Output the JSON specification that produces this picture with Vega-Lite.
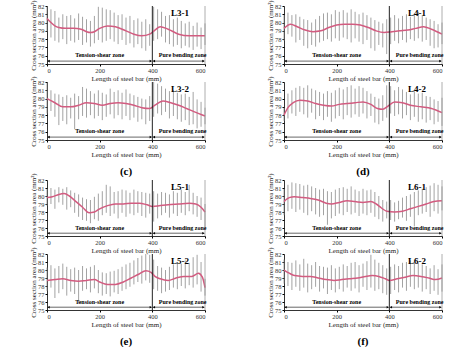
{
"$schema":"https://vega.github.io/schema/vega-lite/v6.json",
"padding":{"left":29,"top":-1,"right":0,"bottom":0},
"datasets":{
"top":[
{"g":"(c)","r":1,"p":"L3-1","x":0,"lo":78.9,"hi":81.9},{"g":"(c)","r":1,"p":"L3-1","x":15,"lo":78.2,"hi":81.6},{"g":"(c)","r":1,"p":"L3-1","x":30,"lo":77.8,"hi":81.4},{"g":"(c)","r":1,"p":"L3-1","x":45,"lo":77.6,"hi":80.6},{"g":"(c)","r":1,"p":"L3-1","x":60,"lo":78.0,"hi":81.0},{"g":"(c)","r":1,"p":"L3-1","x":75,"lo":77.4,"hi":80.8},{"g":"(c)","r":1,"p":"L3-1","x":90,"lo":77.8,"hi":80.9},{"g":"(c)","r":1,"p":"L3-1","x":105,"lo":77.6,"hi":80.5},{"g":"(c)","r":1,"p":"L3-1","x":120,"lo":77.9,"hi":81.1},{"g":"(c)","r":1,"p":"L3-1","x":135,"lo":77.3,"hi":80.7},{"g":"(c)","r":1,"p":"L3-1","x":150,"lo":77.6,"hi":80.4},{"g":"(c)","r":1,"p":"L3-1","x":165,"lo":77.1,"hi":80.2},{"g":"(c)","r":1,"p":"L3-1","x":180,"lo":77.5,"hi":80.8},{"g":"(c)","r":1,"p":"L3-1","x":195,"lo":77.9,"hi":81.9},{"g":"(c)","r":1,"p":"L3-1","x":210,"lo":77.6,"hi":81.8},{"g":"(c)","r":1,"p":"L3-1","x":225,"lo":77.8,"hi":81.6},{"g":"(c)","r":1,"p":"L3-1","x":240,"lo":78.0,"hi":81.5},{"g":"(c)","r":1,"p":"L3-1","x":255,"lo":77.7,"hi":81.2},{"g":"(c)","r":1,"p":"L3-1","x":270,"lo":77.4,"hi":80.9},{"g":"(c)","r":1,"p":"L3-1","x":285,"lo":77.9,"hi":81.0},{"g":"(c)","r":1,"p":"L3-1","x":300,"lo":77.3,"hi":80.6},{"g":"(c)","r":1,"p":"L3-1","x":315,"lo":77.5,"hi":80.8},{"g":"(c)","r":1,"p":"L3-1","x":330,"lo":77.0,"hi":80.3},{"g":"(c)","r":1,"p":"L3-1","x":345,"lo":77.4,"hi":80.5},{"g":"(c)","r":1,"p":"L3-1","x":360,"lo":76.9,"hi":80.1},{"g":"(c)","r":1,"p":"L3-1","x":375,"lo":76.6,"hi":80.4},{"g":"(c)","r":1,"p":"L3-1","x":390,"lo":77.2,"hi":79.8},{"g":"(c)","r":1,"p":"L3-1","x":405,"lo":77.8,"hi":81.9},{"g":"(c)","r":1,"p":"L3-1","x":420,"lo":78.0,"hi":81.6},{"g":"(c)","r":1,"p":"L3-1","x":435,"lo":78.3,"hi":81.3},{"g":"(c)","r":1,"p":"L3-1","x":450,"lo":77.6,"hi":80.8},{"g":"(c)","r":1,"p":"L3-1","x":465,"lo":77.4,"hi":80.9},{"g":"(c)","r":1,"p":"L3-1","x":480,"lo":77.1,"hi":80.4},{"g":"(c)","r":1,"p":"L3-1","x":495,"lo":77.3,"hi":80.6},{"g":"(c)","r":1,"p":"L3-1","x":510,"lo":76.9,"hi":80.2},{"g":"(c)","r":1,"p":"L3-1","x":525,"lo":77.2,"hi":79.9},{"g":"(c)","r":1,"p":"L3-1","x":540,"lo":77.0,"hi":80.1},{"g":"(c)","r":1,"p":"L3-1","x":555,"lo":76.7,"hi":79.6},{"g":"(c)","r":1,"p":"L3-1","x":570,"lo":77.1,"hi":80.0},{"g":"(c)","r":1,"p":"L3-1","x":585,"lo":76.8,"hi":79.4},{"g":"(c)","r":1,"p":"L3-1","x":600,"lo":77.3,"hi":79.9},
{"g":"(c)","r":1,"p":"L3-1","x":0,"y":80.5},{"g":"(c)","r":1,"p":"L3-1","x":15,"y":80.0},{"g":"(c)","r":1,"p":"L3-1","x":30,"y":79.6},{"g":"(c)","r":1,"p":"L3-1","x":45,"y":79.4},{"g":"(c)","r":1,"p":"L3-1","x":70,"y":79.3},{"g":"(c)","r":1,"p":"L3-1","x":100,"y":79.3},{"g":"(c)","r":1,"p":"L3-1","x":130,"y":79.2},{"g":"(c)","r":1,"p":"L3-1","x":150,"y":78.9},{"g":"(c)","r":1,"p":"L3-1","x":165,"y":78.8},{"g":"(c)","r":1,"p":"L3-1","x":180,"y":78.9},{"g":"(c)","r":1,"p":"L3-1","x":200,"y":79.3},{"g":"(c)","r":1,"p":"L3-1","x":230,"y":79.6},{"g":"(c)","r":1,"p":"L3-1","x":260,"y":79.5},{"g":"(c)","r":1,"p":"L3-1","x":300,"y":79.0},{"g":"(c)","r":1,"p":"L3-1","x":330,"y":78.6},{"g":"(c)","r":1,"p":"L3-1","x":360,"y":78.4},{"g":"(c)","r":1,"p":"L3-1","x":390,"y":78.6},{"g":"(c)","r":1,"p":"L3-1","x":410,"y":79.1},{"g":"(c)","r":1,"p":"L3-1","x":430,"y":79.5},{"g":"(c)","r":1,"p":"L3-1","x":460,"y":79.2},{"g":"(c)","r":1,"p":"L3-1","x":500,"y":78.6},{"g":"(c)","r":1,"p":"L3-1","x":540,"y":78.4},{"g":"(c)","r":1,"p":"L3-1","x":600,"y":78.4},
{"g":"(c)","r":2,"p":"L3-2","x":0,"lo":78.2,"hi":81.9},{"g":"(c)","r":2,"p":"L3-2","x":15,"lo":78.5,"hi":81.0},{"g":"(c)","r":2,"p":"L3-2","x":30,"lo":77.8,"hi":80.6},{"g":"(c)","r":2,"p":"L3-2","x":45,"lo":76.8,"hi":80.5},{"g":"(c)","r":2,"p":"L3-2","x":60,"lo":77.3,"hi":80.2},{"g":"(c)","r":2,"p":"L3-2","x":75,"lo":76.9,"hi":80.4},{"g":"(c)","r":2,"p":"L3-2","x":90,"lo":77.6,"hi":80.1},{"g":"(c)","r":2,"p":"L3-2","x":105,"lo":76.3,"hi":80.6},{"g":"(c)","r":2,"p":"L3-2","x":120,"lo":77.5,"hi":80.3},{"g":"(c)","r":2,"p":"L3-2","x":135,"lo":77.9,"hi":81.4},{"g":"(c)","r":2,"p":"L3-2","x":150,"lo":77.7,"hi":81.2},{"g":"(c)","r":2,"p":"L3-2","x":165,"lo":78.0,"hi":80.9},{"g":"(c)","r":2,"p":"L3-2","x":180,"lo":77.6,"hi":80.6},{"g":"(c)","r":2,"p":"L3-2","x":195,"lo":77.9,"hi":81.0},{"g":"(c)","r":2,"p":"L3-2","x":210,"lo":77.4,"hi":80.7},{"g":"(c)","r":2,"p":"L3-2","x":225,"lo":77.8,"hi":80.5},{"g":"(c)","r":2,"p":"L3-2","x":240,"lo":78.1,"hi":81.2},{"g":"(c)","r":2,"p":"L3-2","x":255,"lo":77.6,"hi":80.8},{"g":"(c)","r":2,"p":"L3-2","x":270,"lo":78.0,"hi":81.0},{"g":"(c)","r":2,"p":"L3-2","x":285,"lo":77.5,"hi":80.7},{"g":"(c)","r":2,"p":"L3-2","x":300,"lo":77.9,"hi":81.1},{"g":"(c)","r":2,"p":"L3-2","x":315,"lo":77.4,"hi":80.6},{"g":"(c)","r":2,"p":"L3-2","x":330,"lo":77.7,"hi":80.4},{"g":"(c)","r":2,"p":"L3-2","x":345,"lo":77.2,"hi":80.2},{"g":"(c)","r":2,"p":"L3-2","x":360,"lo":77.5,"hi":80.0},{"g":"(c)","r":2,"p":"L3-2","x":375,"lo":76.9,"hi":79.9},{"g":"(c)","r":2,"p":"L3-2","x":390,"lo":77.3,"hi":80.3},{"g":"(c)","r":2,"p":"L3-2","x":405,"lo":77.8,"hi":82.0},{"g":"(c)","r":2,"p":"L3-2","x":420,"lo":78.2,"hi":81.8},{"g":"(c)","r":2,"p":"L3-2","x":435,"lo":78.0,"hi":81.5},{"g":"(c)","r":2,"p":"L3-2","x":450,"lo":78.4,"hi":81.2},{"g":"(c)","r":2,"p":"L3-2","x":465,"lo":77.6,"hi":80.9},{"g":"(c)","r":2,"p":"L3-2","x":480,"lo":77.9,"hi":81.0},{"g":"(c)","r":2,"p":"L3-2","x":495,"lo":77.5,"hi":80.7},{"g":"(c)","r":2,"p":"L3-2","x":510,"lo":77.2,"hi":80.5},{"g":"(c)","r":2,"p":"L3-2","x":525,"lo":77.4,"hi":80.6},{"g":"(c)","r":2,"p":"L3-2","x":540,"lo":76.8,"hi":80.2},{"g":"(c)","r":2,"p":"L3-2","x":555,"lo":76.9,"hi":80.8},{"g":"(c)","r":2,"p":"L3-2","x":570,"lo":76.4,"hi":79.9},{"g":"(c)","r":2,"p":"L3-2","x":585,"lo":76.6,"hi":79.6},{"g":"(c)","r":2,"p":"L3-2","x":600,"lo":76.9,"hi":78.9},
{"g":"(c)","r":2,"p":"L3-2","x":0,"y":80.0},{"g":"(c)","r":2,"p":"L3-2","x":30,"y":79.5},{"g":"(c)","r":2,"p":"L3-2","x":60,"y":79.0},{"g":"(c)","r":2,"p":"L3-2","x":90,"y":79.0},{"g":"(c)","r":2,"p":"L3-2","x":120,"y":79.2},{"g":"(c)","r":2,"p":"L3-2","x":150,"y":79.5},{"g":"(c)","r":2,"p":"L3-2","x":180,"y":79.4},{"g":"(c)","r":2,"p":"L3-2","x":210,"y":79.2},{"g":"(c)","r":2,"p":"L3-2","x":240,"y":79.4},{"g":"(c)","r":2,"p":"L3-2","x":270,"y":79.5},{"g":"(c)","r":2,"p":"L3-2","x":300,"y":79.4},{"g":"(c)","r":2,"p":"L3-2","x":330,"y":79.2},{"g":"(c)","r":2,"p":"L3-2","x":360,"y":78.9},{"g":"(c)","r":2,"p":"L3-2","x":390,"y":78.8},{"g":"(c)","r":2,"p":"L3-2","x":410,"y":79.2},{"g":"(c)","r":2,"p":"L3-2","x":440,"y":79.7},{"g":"(c)","r":2,"p":"L3-2","x":470,"y":79.5},{"g":"(c)","r":2,"p":"L3-2","x":500,"y":79.2},{"g":"(c)","r":2,"p":"L3-2","x":530,"y":78.8},{"g":"(c)","r":2,"p":"L3-2","x":560,"y":78.4},{"g":"(c)","r":2,"p":"L3-2","x":600,"y":77.9},
{"g":"(d)","r":1,"p":"L4-1","x":0,"lo":77.8,"hi":80.9},{"g":"(d)","r":1,"p":"L4-1","x":15,"lo":78.6,"hi":81.2},{"g":"(d)","r":1,"p":"L4-1","x":30,"lo":78.3,"hi":80.9},{"g":"(d)","r":1,"p":"L4-1","x":45,"lo":77.6,"hi":81.0},{"g":"(d)","r":1,"p":"L4-1","x":60,"lo":77.9,"hi":80.7},{"g":"(d)","r":1,"p":"L4-1","x":75,"lo":77.2,"hi":80.4},{"g":"(d)","r":1,"p":"L4-1","x":90,"lo":76.9,"hi":80.3},{"g":"(d)","r":1,"p":"L4-1","x":105,"lo":77.3,"hi":80.0},{"g":"(d)","r":1,"p":"L4-1","x":120,"lo":77.1,"hi":80.4},{"g":"(d)","r":1,"p":"L4-1","x":135,"lo":77.6,"hi":80.8},{"g":"(d)","r":1,"p":"L4-1","x":150,"lo":77.8,"hi":81.1},{"g":"(d)","r":1,"p":"L4-1","x":165,"lo":78.0,"hi":81.2},{"g":"(d)","r":1,"p":"L4-1","x":180,"lo":77.7,"hi":81.0},{"g":"(d)","r":1,"p":"L4-1","x":195,"lo":78.1,"hi":81.5},{"g":"(d)","r":1,"p":"L4-1","x":210,"lo":77.8,"hi":81.3},{"g":"(d)","r":1,"p":"L4-1","x":225,"lo":78.2,"hi":81.5},{"g":"(d)","r":1,"p":"L4-1","x":240,"lo":78.0,"hi":81.2},{"g":"(d)","r":1,"p":"L4-1","x":255,"lo":77.6,"hi":81.6},{"g":"(d)","r":1,"p":"L4-1","x":270,"lo":78.1,"hi":81.3},{"g":"(d)","r":1,"p":"L4-1","x":285,"lo":77.7,"hi":81.0},{"g":"(d)","r":1,"p":"L4-1","x":300,"lo":77.4,"hi":81.2},{"g":"(d)","r":1,"p":"L4-1","x":315,"lo":77.9,"hi":80.9},{"g":"(d)","r":1,"p":"L4-1","x":330,"lo":76.9,"hi":80.6},{"g":"(d)","r":1,"p":"L4-1","x":345,"lo":76.6,"hi":80.3},{"g":"(d)","r":1,"p":"L4-1","x":360,"lo":77.3,"hi":80.1},{"g":"(d)","r":1,"p":"L4-1","x":375,"lo":77.0,"hi":79.9},{"g":"(d)","r":1,"p":"L4-1","x":390,"lo":76.2,"hi":80.4},{"g":"(d)","r":1,"p":"L4-1","x":405,"lo":77.4,"hi":80.6},{"g":"(d)","r":1,"p":"L4-1","x":420,"lo":77.8,"hi":80.9},{"g":"(d)","r":1,"p":"L4-1","x":435,"lo":77.5,"hi":80.5},{"g":"(d)","r":1,"p":"L4-1","x":450,"lo":77.9,"hi":80.8},{"g":"(d)","r":1,"p":"L4-1","x":465,"lo":77.6,"hi":81.0},{"g":"(d)","r":1,"p":"L4-1","x":480,"lo":78.0,"hi":80.7},{"g":"(d)","r":1,"p":"L4-1","x":495,"lo":77.8,"hi":81.1},{"g":"(d)","r":1,"p":"L4-1","x":510,"lo":78.1,"hi":81.3},{"g":"(d)","r":1,"p":"L4-1","x":525,"lo":77.7,"hi":80.9},{"g":"(d)","r":1,"p":"L4-1","x":540,"lo":77.9,"hi":80.6},{"g":"(d)","r":1,"p":"L4-1","x":555,"lo":77.2,"hi":80.4},{"g":"(d)","r":1,"p":"L4-1","x":570,"lo":76.9,"hi":80.2},{"g":"(d)","r":1,"p":"L4-1","x":585,"lo":77.0,"hi":79.8},{"g":"(d)","r":1,"p":"L4-1","x":600,"lo":77.4,"hi":80.0},
{"g":"(d)","r":1,"p":"L4-1","x":0,"y":79.3},{"g":"(d)","r":1,"p":"L4-1","x":25,"y":79.8},{"g":"(d)","r":1,"p":"L4-1","x":50,"y":79.5},{"g":"(d)","r":1,"p":"L4-1","x":80,"y":79.1},{"g":"(d)","r":1,"p":"L4-1","x":110,"y":78.9},{"g":"(d)","r":1,"p":"L4-1","x":140,"y":79.0},{"g":"(d)","r":1,"p":"L4-1","x":170,"y":79.4},{"g":"(d)","r":1,"p":"L4-1","x":200,"y":79.7},{"g":"(d)","r":1,"p":"L4-1","x":230,"y":79.8},{"g":"(d)","r":1,"p":"L4-1","x":260,"y":79.8},{"g":"(d)","r":1,"p":"L4-1","x":290,"y":79.7},{"g":"(d)","r":1,"p":"L4-1","x":320,"y":79.4},{"g":"(d)","r":1,"p":"L4-1","x":350,"y":79.0},{"g":"(d)","r":1,"p":"L4-1","x":380,"y":78.8},{"g":"(d)","r":1,"p":"L4-1","x":410,"y":78.9},{"g":"(d)","r":1,"p":"L4-1","x":440,"y":79.0},{"g":"(d)","r":1,"p":"L4-1","x":470,"y":79.1},{"g":"(d)","r":1,"p":"L4-1","x":500,"y":79.3},{"g":"(d)","r":1,"p":"L4-1","x":530,"y":79.5},{"g":"(d)","r":1,"p":"L4-1","x":560,"y":79.2},{"g":"(d)","r":1,"p":"L4-1","x":600,"y":78.6},
{"g":"(d)","r":2,"p":"L4-2","x":0,"lo":77.3,"hi":78.9},{"g":"(d)","r":2,"p":"L4-2","x":15,"lo":77.6,"hi":80.6},{"g":"(d)","r":2,"p":"L4-2","x":30,"lo":78.2,"hi":81.0},{"g":"(d)","r":2,"p":"L4-2","x":45,"lo":77.9,"hi":81.3},{"g":"(d)","r":2,"p":"L4-2","x":60,"lo":78.4,"hi":81.5},{"g":"(d)","r":2,"p":"L4-2","x":75,"lo":78.1,"hi":81.3},{"g":"(d)","r":2,"p":"L4-2","x":90,"lo":77.7,"hi":81.6},{"g":"(d)","r":2,"p":"L4-2","x":105,"lo":78.3,"hi":81.2},{"g":"(d)","r":2,"p":"L4-2","x":120,"lo":77.5,"hi":81.0},{"g":"(d)","r":2,"p":"L4-2","x":135,"lo":77.9,"hi":80.8},{"g":"(d)","r":2,"p":"L4-2","x":150,"lo":77.4,"hi":80.6},{"g":"(d)","r":2,"p":"L4-2","x":165,"lo":77.8,"hi":80.9},{"g":"(d)","r":2,"p":"L4-2","x":180,"lo":77.2,"hi":80.7},{"g":"(d)","r":2,"p":"L4-2","x":195,"lo":77.6,"hi":81.0},{"g":"(d)","r":2,"p":"L4-2","x":210,"lo":77.9,"hi":81.3},{"g":"(d)","r":2,"p":"L4-2","x":225,"lo":77.5,"hi":81.1},{"g":"(d)","r":2,"p":"L4-2","x":240,"lo":78.0,"hi":81.4},{"g":"(d)","r":2,"p":"L4-2","x":255,"lo":77.7,"hi":81.6},{"g":"(d)","r":2,"p":"L4-2","x":270,"lo":78.1,"hi":81.2},{"g":"(d)","r":2,"p":"L4-2","x":285,"lo":77.8,"hi":81.5},{"g":"(d)","r":2,"p":"L4-2","x":300,"lo":78.2,"hi":81.3},{"g":"(d)","r":2,"p":"L4-2","x":315,"lo":77.6,"hi":80.9},{"g":"(d)","r":2,"p":"L4-2","x":330,"lo":77.9,"hi":80.6},{"g":"(d)","r":2,"p":"L4-2","x":345,"lo":77.1,"hi":80.2},{"g":"(d)","r":2,"p":"L4-2","x":360,"lo":76.9,"hi":80.0},{"g":"(d)","r":2,"p":"L4-2","x":375,"lo":77.3,"hi":80.4},{"g":"(d)","r":2,"p":"L4-2","x":390,"lo":77.7,"hi":81.6},{"g":"(d)","r":2,"p":"L4-2","x":405,"lo":78.2,"hi":81.5},{"g":"(d)","r":2,"p":"L4-2","x":420,"lo":77.9,"hi":81.0},{"g":"(d)","r":2,"p":"L4-2","x":435,"lo":78.1,"hi":81.4},{"g":"(d)","r":2,"p":"L4-2","x":450,"lo":77.6,"hi":81.1},{"g":"(d)","r":2,"p":"L4-2","x":465,"lo":78.0,"hi":80.8},{"g":"(d)","r":2,"p":"L4-2","x":480,"lo":77.4,"hi":80.5},{"g":"(d)","r":2,"p":"L4-2","x":495,"lo":77.8,"hi":80.9},{"g":"(d)","r":2,"p":"L4-2","x":510,"lo":77.2,"hi":80.6},{"g":"(d)","r":2,"p":"L4-2","x":525,"lo":77.5,"hi":80.7},{"g":"(d)","r":2,"p":"L4-2","x":540,"lo":77.1,"hi":80.3},{"g":"(d)","r":2,"p":"L4-2","x":555,"lo":77.4,"hi":80.2},{"g":"(d)","r":2,"p":"L4-2","x":570,"lo":76.9,"hi":79.9},{"g":"(d)","r":2,"p":"L4-2","x":585,"lo":77.2,"hi":79.7},{"g":"(d)","r":2,"p":"L4-2","x":600,"lo":76.7,"hi":80.1},
{"g":"(d)","r":2,"p":"L4-2","x":0,"y":78.0},{"g":"(d)","r":2,"p":"L4-2","x":15,"y":78.9},{"g":"(d)","r":2,"p":"L4-2","x":35,"y":79.5},{"g":"(d)","r":2,"p":"L4-2","x":60,"y":79.8},{"g":"(d)","r":2,"p":"L4-2","x":90,"y":79.7},{"g":"(d)","r":2,"p":"L4-2","x":120,"y":79.4},{"g":"(d)","r":2,"p":"L4-2","x":150,"y":79.2},{"g":"(d)","r":2,"p":"L4-2","x":180,"y":79.1},{"g":"(d)","r":2,"p":"L4-2","x":210,"y":79.3},{"g":"(d)","r":2,"p":"L4-2","x":240,"y":79.4},{"g":"(d)","r":2,"p":"L4-2","x":270,"y":79.5},{"g":"(d)","r":2,"p":"L4-2","x":300,"y":79.6},{"g":"(d)","r":2,"p":"L4-2","x":330,"y":79.3},{"g":"(d)","r":2,"p":"L4-2","x":355,"y":78.8},{"g":"(d)","r":2,"p":"L4-2","x":375,"y":78.7},{"g":"(d)","r":2,"p":"L4-2","x":395,"y":79.1},{"g":"(d)","r":2,"p":"L4-2","x":420,"y":79.6},{"g":"(d)","r":2,"p":"L4-2","x":450,"y":79.5},{"g":"(d)","r":2,"p":"L4-2","x":480,"y":79.2},{"g":"(d)","r":2,"p":"L4-2","x":520,"y":79.0},{"g":"(d)","r":2,"p":"L4-2","x":560,"y":78.8},{"g":"(d)","r":2,"p":"L4-2","x":600,"y":78.3}
],
"bot":[
{"g":"(e)","r":1,"p":"L5-1","x":0,"lo":78.8,"hi":80.9},{"g":"(e)","r":1,"p":"L5-1","x":15,"lo":79.0,"hi":81.0},{"g":"(e)","r":1,"p":"L5-1","x":30,"lo":78.4,"hi":80.8},{"g":"(e)","r":1,"p":"L5-1","x":45,"lo":79.2,"hi":81.1},{"g":"(e)","r":1,"p":"L5-1","x":60,"lo":78.9,"hi":80.9},{"g":"(e)","r":1,"p":"L5-1","x":75,"lo":78.3,"hi":81.1},{"g":"(e)","r":1,"p":"L5-1","x":90,"lo":78.6,"hi":80.7},{"g":"(e)","r":1,"p":"L5-1","x":105,"lo":77.9,"hi":80.4},{"g":"(e)","r":1,"p":"L5-1","x":120,"lo":77.4,"hi":80.2},{"g":"(e)","r":1,"p":"L5-1","x":135,"lo":77.0,"hi":79.8},{"g":"(e)","r":1,"p":"L5-1","x":150,"lo":76.9,"hi":79.6},{"g":"(e)","r":1,"p":"L5-1","x":165,"lo":76.6,"hi":79.5},{"g":"(e)","r":1,"p":"L5-1","x":180,"lo":77.1,"hi":79.9},{"g":"(e)","r":1,"p":"L5-1","x":195,"lo":76.9,"hi":80.3},{"g":"(e)","r":1,"p":"L5-1","x":210,"lo":77.6,"hi":80.6},{"g":"(e)","r":1,"p":"L5-1","x":225,"lo":77.9,"hi":81.4},{"g":"(e)","r":1,"p":"L5-1","x":240,"lo":77.5,"hi":81.2},{"g":"(e)","r":1,"p":"L5-1","x":255,"lo":77.8,"hi":80.5},{"g":"(e)","r":1,"p":"L5-1","x":270,"lo":77.2,"hi":80.6},{"g":"(e)","r":1,"p":"L5-1","x":285,"lo":77.9,"hi":80.8},{"g":"(e)","r":1,"p":"L5-1","x":300,"lo":77.4,"hi":80.7},{"g":"(e)","r":1,"p":"L5-1","x":315,"lo":77.8,"hi":80.4},{"g":"(e)","r":1,"p":"L5-1","x":330,"lo":77.6,"hi":80.8},{"g":"(e)","r":1,"p":"L5-1","x":345,"lo":77.9,"hi":80.6},{"g":"(e)","r":1,"p":"L5-1","x":360,"lo":77.5,"hi":80.5},{"g":"(e)","r":1,"p":"L5-1","x":375,"lo":77.3,"hi":80.4},{"g":"(e)","r":1,"p":"L5-1","x":390,"lo":77.8,"hi":80.3},{"g":"(e)","r":1,"p":"L5-1","x":405,"lo":76.8,"hi":80.6},{"g":"(e)","r":1,"p":"L5-1","x":420,"lo":77.2,"hi":80.3},{"g":"(e)","r":1,"p":"L5-1","x":435,"lo":77.6,"hi":80.5},{"g":"(e)","r":1,"p":"L5-1","x":450,"lo":77.9,"hi":80.4},{"g":"(e)","r":1,"p":"L5-1","x":465,"lo":77.3,"hi":80.2},{"g":"(e)","r":1,"p":"L5-1","x":480,"lo":77.8,"hi":80.6},{"g":"(e)","r":1,"p":"L5-1","x":495,"lo":77.5,"hi":80.4},{"g":"(e)","r":1,"p":"L5-1","x":510,"lo":77.9,"hi":80.8},{"g":"(e)","r":1,"p":"L5-1","x":525,"lo":77.6,"hi":80.5},{"g":"(e)","r":1,"p":"L5-1","x":540,"lo":78.1,"hi":81.4},{"g":"(e)","r":1,"p":"L5-1","x":555,"lo":77.7,"hi":80.4},{"g":"(e)","r":1,"p":"L5-1","x":570,"lo":77.4,"hi":80.0},{"g":"(e)","r":1,"p":"L5-1","x":585,"lo":77.0,"hi":79.8},{"g":"(e)","r":1,"p":"L5-1","x":600,"lo":76.1,"hi":79.0},
{"g":"(e)","r":1,"p":"L5-1","x":0,"y":79.8},{"g":"(e)","r":1,"p":"L5-1","x":20,"y":79.9},{"g":"(e)","r":1,"p":"L5-1","x":45,"y":80.2},{"g":"(e)","r":1,"p":"L5-1","x":65,"y":80.3},{"g":"(e)","r":1,"p":"L5-1","x":85,"y":80.0},{"g":"(e)","r":1,"p":"L5-1","x":110,"y":79.3},{"g":"(e)","r":1,"p":"L5-1","x":135,"y":78.6},{"g":"(e)","r":1,"p":"L5-1","x":160,"y":77.9},{"g":"(e)","r":1,"p":"L5-1","x":180,"y":78.0},{"g":"(e)","r":1,"p":"L5-1","x":200,"y":78.4},{"g":"(e)","r":1,"p":"L5-1","x":230,"y":78.8},{"g":"(e)","r":1,"p":"L5-1","x":260,"y":79.0},{"g":"(e)","r":1,"p":"L5-1","x":290,"y":79.0},{"g":"(e)","r":1,"p":"L5-1","x":320,"y":79.1},{"g":"(e)","r":1,"p":"L5-1","x":350,"y":79.1},{"g":"(e)","r":1,"p":"L5-1","x":380,"y":78.9},{"g":"(e)","r":1,"p":"L5-1","x":400,"y":78.7},{"g":"(e)","r":1,"p":"L5-1","x":430,"y":78.8},{"g":"(e)","r":1,"p":"L5-1","x":460,"y":78.9},{"g":"(e)","r":1,"p":"L5-1","x":500,"y":79.0},{"g":"(e)","r":1,"p":"L5-1","x":540,"y":79.1},{"g":"(e)","r":1,"p":"L5-1","x":565,"y":79.0},{"g":"(e)","r":1,"p":"L5-1","x":585,"y":78.6},{"g":"(e)","r":1,"p":"L5-1","x":600,"y":78.0},
{"g":"(e)","r":2,"p":"L5-2","x":0,"lo":77.4,"hi":80.3},{"g":"(e)","r":2,"p":"L5-2","x":15,"lo":77.8,"hi":80.6},{"g":"(e)","r":2,"p":"L5-2","x":30,"lo":76.5,"hi":80.2},{"g":"(e)","r":2,"p":"L5-2","x":45,"lo":77.1,"hi":80.5},{"g":"(e)","r":2,"p":"L5-2","x":60,"lo":77.6,"hi":80.8},{"g":"(e)","r":2,"p":"L5-2","x":75,"lo":76.8,"hi":80.4},{"g":"(e)","r":2,"p":"L5-2","x":90,"lo":77.3,"hi":80.1},{"g":"(e)","r":2,"p":"L5-2","x":105,"lo":77.0,"hi":80.3},{"g":"(e)","r":2,"p":"L5-2","x":120,"lo":75.8,"hi":80.0},{"g":"(e)","r":2,"p":"L5-2","x":135,"lo":77.4,"hi":80.5},{"g":"(e)","r":2,"p":"L5-2","x":150,"lo":77.6,"hi":80.2},{"g":"(e)","r":2,"p":"L5-2","x":165,"lo":77.2,"hi":80.4},{"g":"(e)","r":2,"p":"L5-2","x":180,"lo":77.7,"hi":80.6},{"g":"(e)","r":2,"p":"L5-2","x":195,"lo":77.1,"hi":80.0},{"g":"(e)","r":2,"p":"L5-2","x":210,"lo":76.8,"hi":79.7},{"g":"(e)","r":2,"p":"L5-2","x":225,"lo":77.0,"hi":79.6},{"g":"(e)","r":2,"p":"L5-2","x":240,"lo":76.7,"hi":79.8},{"g":"(e)","r":2,"p":"L5-2","x":255,"lo":77.2,"hi":79.9},{"g":"(e)","r":2,"p":"L5-2","x":270,"lo":77.0,"hi":80.1},{"g":"(e)","r":2,"p":"L5-2","x":285,"lo":77.4,"hi":80.4},{"g":"(e)","r":2,"p":"L5-2","x":300,"lo":77.6,"hi":80.7},{"g":"(e)","r":2,"p":"L5-2","x":315,"lo":77.9,"hi":80.9},{"g":"(e)","r":2,"p":"L5-2","x":330,"lo":78.2,"hi":81.2},{"g":"(e)","r":2,"p":"L5-2","x":345,"lo":78.5,"hi":81.5},{"g":"(e)","r":2,"p":"L5-2","x":360,"lo":78.3,"hi":81.8},{"g":"(e)","r":2,"p":"L5-2","x":375,"lo":78.7,"hi":82.0},{"g":"(e)","r":2,"p":"L5-2","x":390,"lo":78.4,"hi":81.9},{"g":"(e)","r":2,"p":"L5-2","x":405,"lo":77.6,"hi":81.3},{"g":"(e)","r":2,"p":"L5-2","x":420,"lo":77.4,"hi":80.5},{"g":"(e)","r":2,"p":"L5-2","x":435,"lo":77.1,"hi":80.3},{"g":"(e)","r":2,"p":"L5-2","x":450,"lo":77.3,"hi":80.0},{"g":"(e)","r":2,"p":"L5-2","x":465,"lo":77.5,"hi":80.4},{"g":"(e)","r":2,"p":"L5-2","x":480,"lo":77.8,"hi":80.7},{"g":"(e)","r":2,"p":"L5-2","x":495,"lo":77.6,"hi":81.0},{"g":"(e)","r":2,"p":"L5-2","x":510,"lo":78.0,"hi":80.8},{"g":"(e)","r":2,"p":"L5-2","x":525,"lo":77.7,"hi":81.2},{"g":"(e)","r":2,"p":"L5-2","x":540,"lo":78.1,"hi":80.9},{"g":"(e)","r":2,"p":"L5-2","x":555,"lo":77.8,"hi":81.6},{"g":"(e)","r":2,"p":"L5-2","x":570,"lo":78.2,"hi":81.9},{"g":"(e)","r":2,"p":"L5-2","x":585,"lo":77.3,"hi":81.0},{"g":"(e)","r":2,"p":"L5-2","x":600,"lo":76.8,"hi":78.9},
{"g":"(e)","r":2,"p":"L5-2","x":0,"y":78.7},{"g":"(e)","r":2,"p":"L5-2","x":30,"y":78.8},{"g":"(e)","r":2,"p":"L5-2","x":60,"y":78.9},{"g":"(e)","r":2,"p":"L5-2","x":90,"y":78.7},{"g":"(e)","r":2,"p":"L5-2","x":120,"y":78.6},{"g":"(e)","r":2,"p":"L5-2","x":150,"y":78.7},{"g":"(e)","r":2,"p":"L5-2","x":180,"y":78.8},{"g":"(e)","r":2,"p":"L5-2","x":200,"y":78.5},{"g":"(e)","r":2,"p":"L5-2","x":230,"y":78.2},{"g":"(e)","r":2,"p":"L5-2","x":260,"y":78.2},{"g":"(e)","r":2,"p":"L5-2","x":290,"y":78.5},{"g":"(e)","r":2,"p":"L5-2","x":320,"y":79.0},{"g":"(e)","r":2,"p":"L5-2","x":350,"y":79.5},{"g":"(e)","r":2,"p":"L5-2","x":375,"y":79.9},{"g":"(e)","r":2,"p":"L5-2","x":395,"y":79.7},{"g":"(e)","r":2,"p":"L5-2","x":410,"y":79.2},{"g":"(e)","r":2,"p":"L5-2","x":430,"y":78.9},{"g":"(e)","r":2,"p":"L5-2","x":460,"y":78.7},{"g":"(e)","r":2,"p":"L5-2","x":490,"y":79.0},{"g":"(e)","r":2,"p":"L5-2","x":520,"y":79.2},{"g":"(e)","r":2,"p":"L5-2","x":550,"y":79.2},{"g":"(e)","r":2,"p":"L5-2","x":575,"y":79.6},{"g":"(e)","r":2,"p":"L5-2","x":590,"y":79.1},{"g":"(e)","r":2,"p":"L5-2","x":600,"y":77.8},
{"g":"(f)","r":1,"p":"L6-1","x":0,"lo":77.6,"hi":80.9},{"g":"(f)","r":1,"p":"L6-1","x":15,"lo":78.1,"hi":81.4},{"g":"(f)","r":1,"p":"L6-1","x":30,"lo":78.4,"hi":81.7},{"g":"(f)","r":1,"p":"L6-1","x":45,"lo":78.0,"hi":81.6},{"g":"(f)","r":1,"p":"L6-1","x":60,"lo":78.3,"hi":81.5},{"g":"(f)","r":1,"p":"L6-1","x":75,"lo":77.9,"hi":81.3},{"g":"(f)","r":1,"p":"L6-1","x":90,"lo":77.6,"hi":81.4},{"g":"(f)","r":1,"p":"L6-1","x":105,"lo":78.1,"hi":81.2},{"g":"(f)","r":1,"p":"L6-1","x":120,"lo":77.7,"hi":81.0},{"g":"(f)","r":1,"p":"L6-1","x":135,"lo":77.4,"hi":80.8},{"g":"(f)","r":1,"p":"L6-1","x":150,"lo":77.6,"hi":80.9},{"g":"(f)","r":1,"p":"L6-1","x":165,"lo":76.4,"hi":80.6},{"g":"(f)","r":1,"p":"L6-1","x":180,"lo":77.2,"hi":80.5},{"g":"(f)","r":1,"p":"L6-1","x":195,"lo":77.5,"hi":80.8},{"g":"(f)","r":1,"p":"L6-1","x":210,"lo":77.8,"hi":81.0},{"g":"(f)","r":1,"p":"L6-1","x":225,"lo":77.6,"hi":81.1},{"g":"(f)","r":1,"p":"L6-1","x":240,"lo":78.0,"hi":80.9},{"g":"(f)","r":1,"p":"L6-1","x":255,"lo":77.7,"hi":81.2},{"g":"(f)","r":1,"p":"L6-1","x":270,"lo":77.9,"hi":80.8},{"g":"(f)","r":1,"p":"L6-1","x":285,"lo":77.5,"hi":80.6},{"g":"(f)","r":1,"p":"L6-1","x":300,"lo":77.8,"hi":80.9},{"g":"(f)","r":1,"p":"L6-1","x":315,"lo":77.6,"hi":80.7},{"g":"(f)","r":1,"p":"L6-1","x":330,"lo":77.9,"hi":80.8},{"g":"(f)","r":1,"p":"L6-1","x":345,"lo":77.4,"hi":80.5},{"g":"(f)","r":1,"p":"L6-1","x":360,"lo":77.1,"hi":80.0},{"g":"(f)","r":1,"p":"L6-1","x":375,"lo":76.8,"hi":79.5},{"g":"(f)","r":1,"p":"L6-1","x":390,"lo":77.2,"hi":79.3},{"g":"(f)","r":1,"p":"L6-1","x":405,"lo":77.0,"hi":79.5},{"g":"(f)","r":1,"p":"L6-1","x":420,"lo":76.8,"hi":79.2},{"g":"(f)","r":1,"p":"L6-1","x":435,"lo":77.1,"hi":79.4},{"g":"(f)","r":1,"p":"L6-1","x":450,"lo":77.3,"hi":79.8},{"g":"(f)","r":1,"p":"L6-1","x":465,"lo":76.9,"hi":80.0},{"g":"(f)","r":1,"p":"L6-1","x":480,"lo":77.4,"hi":80.2},{"g":"(f)","r":1,"p":"L6-1","x":495,"lo":76.2,"hi":80.5},{"g":"(f)","r":1,"p":"L6-1","x":510,"lo":77.6,"hi":80.7},{"g":"(f)","r":1,"p":"L6-1","x":525,"lo":77.8,"hi":80.9},{"g":"(f)","r":1,"p":"L6-1","x":540,"lo":78.0,"hi":81.1},{"g":"(f)","r":1,"p":"L6-1","x":555,"lo":77.4,"hi":81.3},{"g":"(f)","r":1,"p":"L6-1","x":570,"lo":78.1,"hi":81.6},{"g":"(f)","r":1,"p":"L6-1","x":585,"lo":77.8,"hi":81.4},{"g":"(f)","r":1,"p":"L6-1","x":600,"lo":78.2,"hi":81.2},
{"g":"(f)","r":1,"p":"L6-1","x":0,"y":79.3},{"g":"(f)","r":1,"p":"L6-1","x":20,"y":79.8},{"g":"(f)","r":1,"p":"L6-1","x":40,"y":79.9},{"g":"(f)","r":1,"p":"L6-1","x":70,"y":79.8},{"g":"(f)","r":1,"p":"L6-1","x":100,"y":79.7},{"g":"(f)","r":1,"p":"L6-1","x":130,"y":79.5},{"g":"(f)","r":1,"p":"L6-1","x":160,"y":79.1},{"g":"(f)","r":1,"p":"L6-1","x":180,"y":79.0},{"g":"(f)","r":1,"p":"L6-1","x":210,"y":79.2},{"g":"(f)","r":1,"p":"L6-1","x":240,"y":79.4},{"g":"(f)","r":1,"p":"L6-1","x":270,"y":79.3},{"g":"(f)","r":1,"p":"L6-1","x":300,"y":79.2},{"g":"(f)","r":1,"p":"L6-1","x":330,"y":79.3},{"g":"(f)","r":1,"p":"L6-1","x":350,"y":79.0},{"g":"(f)","r":1,"p":"L6-1","x":370,"y":78.5},{"g":"(f)","r":1,"p":"L6-1","x":390,"y":78.1},{"g":"(f)","r":1,"p":"L6-1","x":420,"y":78.0},{"g":"(f)","r":1,"p":"L6-1","x":450,"y":78.1},{"g":"(f)","r":1,"p":"L6-1","x":480,"y":78.4},{"g":"(f)","r":1,"p":"L6-1","x":510,"y":78.7},{"g":"(f)","r":1,"p":"L6-1","x":540,"y":79.0},{"g":"(f)","r":1,"p":"L6-1","x":570,"y":79.3},{"g":"(f)","r":1,"p":"L6-1","x":600,"y":79.4},
{"g":"(f)","r":2,"p":"L6-2","x":0,"lo":78.3,"hi":81.3},{"g":"(f)","r":2,"p":"L6-2","x":15,"lo":78.0,"hi":81.0},{"g":"(f)","r":2,"p":"L6-2","x":30,"lo":77.5,"hi":80.9},{"g":"(f)","r":2,"p":"L6-2","x":45,"lo":77.9,"hi":81.2},{"g":"(f)","r":2,"p":"L6-2","x":60,"lo":77.4,"hi":80.7},{"g":"(f)","r":2,"p":"L6-2","x":75,"lo":77.8,"hi":81.4},{"g":"(f)","r":2,"p":"L6-2","x":90,"lo":77.2,"hi":80.8},{"g":"(f)","r":2,"p":"L6-2","x":105,"lo":77.6,"hi":80.6},{"g":"(f)","r":2,"p":"L6-2","x":120,"lo":77.9,"hi":81.0},{"g":"(f)","r":2,"p":"L6-2","x":135,"lo":77.3,"hi":80.5},{"g":"(f)","r":2,"p":"L6-2","x":150,"lo":77.7,"hi":80.4},{"g":"(f)","r":2,"p":"L6-2","x":165,"lo":77.0,"hi":80.3},{"g":"(f)","r":2,"p":"L6-2","x":180,"lo":77.5,"hi":80.6},{"g":"(f)","r":2,"p":"L6-2","x":195,"lo":77.2,"hi":80.2},{"g":"(f)","r":2,"p":"L6-2","x":210,"lo":77.6,"hi":80.4},{"g":"(f)","r":2,"p":"L6-2","x":225,"lo":77.3,"hi":80.7},{"g":"(f)","r":2,"p":"L6-2","x":240,"lo":77.8,"hi":80.5},{"g":"(f)","r":2,"p":"L6-2","x":255,"lo":77.4,"hi":80.9},{"g":"(f)","r":2,"p":"L6-2","x":270,"lo":77.7,"hi":81.0},{"g":"(f)","r":2,"p":"L6-2","x":285,"lo":77.2,"hi":80.6},{"g":"(f)","r":2,"p":"L6-2","x":300,"lo":77.9,"hi":80.8},{"g":"(f)","r":2,"p":"L6-2","x":315,"lo":77.5,"hi":81.1},{"g":"(f)","r":2,"p":"L6-2","x":330,"lo":77.8,"hi":81.9},{"g":"(f)","r":2,"p":"L6-2","x":345,"lo":77.4,"hi":81.3},{"g":"(f)","r":2,"p":"L6-2","x":360,"lo":77.6,"hi":80.9},{"g":"(f)","r":2,"p":"L6-2","x":375,"lo":77.1,"hi":80.6},{"g":"(f)","r":2,"p":"L6-2","x":390,"lo":76.9,"hi":80.2},{"g":"(f)","r":2,"p":"L6-2","x":405,"lo":77.0,"hi":80.4},{"g":"(f)","r":2,"p":"L6-2","x":420,"lo":77.5,"hi":80.7},{"g":"(f)","r":2,"p":"L6-2","x":435,"lo":77.2,"hi":80.5},{"g":"(f)","r":2,"p":"L6-2","x":450,"lo":77.8,"hi":80.9},{"g":"(f)","r":2,"p":"L6-2","x":465,"lo":77.4,"hi":81.0},{"g":"(f)","r":2,"p":"L6-2","x":480,"lo":77.9,"hi":81.2},{"g":"(f)","r":2,"p":"L6-2","x":495,"lo":77.6,"hi":81.3},{"g":"(f)","r":2,"p":"L6-2","x":510,"lo":77.8,"hi":80.9},{"g":"(f)","r":2,"p":"L6-2","x":525,"lo":77.3,"hi":80.7},{"g":"(f)","r":2,"p":"L6-2","x":540,"lo":77.6,"hi":80.5},{"g":"(f)","r":2,"p":"L6-2","x":555,"lo":77.0,"hi":80.2},{"g":"(f)","r":2,"p":"L6-2","x":570,"lo":77.4,"hi":80.6},{"g":"(f)","r":2,"p":"L6-2","x":585,"lo":76.9,"hi":80.1},{"g":"(f)","r":2,"p":"L6-2","x":600,"lo":77.3,"hi":80.7},
{"g":"(f)","r":2,"p":"L6-2","x":0,"y":80.0},{"g":"(f)","r":2,"p":"L6-2","x":20,"y":79.6},{"g":"(f)","r":2,"p":"L6-2","x":40,"y":79.3},{"g":"(f)","r":2,"p":"L6-2","x":70,"y":79.2},{"g":"(f)","r":2,"p":"L6-2","x":100,"y":79.2},{"g":"(f)","r":2,"p":"L6-2","x":130,"y":79.0},{"g":"(f)","r":2,"p":"L6-2","x":160,"y":78.8},{"g":"(f)","r":2,"p":"L6-2","x":190,"y":78.7},{"g":"(f)","r":2,"p":"L6-2","x":220,"y":78.8},{"g":"(f)","r":2,"p":"L6-2","x":250,"y":78.9},{"g":"(f)","r":2,"p":"L6-2","x":280,"y":79.0},{"g":"(f)","r":2,"p":"L6-2","x":310,"y":79.2},{"g":"(f)","r":2,"p":"L6-2","x":335,"y":79.3},{"g":"(f)","r":2,"p":"L6-2","x":360,"y":79.2},{"g":"(f)","r":2,"p":"L6-2","x":385,"y":78.9},{"g":"(f)","r":2,"p":"L6-2","x":400,"y":78.7},{"g":"(f)","r":2,"p":"L6-2","x":430,"y":78.9},{"g":"(f)","r":2,"p":"L6-2","x":460,"y":79.1},{"g":"(f)","r":2,"p":"L6-2","x":490,"y":79.3},{"g":"(f)","r":2,"p":"L6-2","x":520,"y":79.2},{"g":"(f)","r":2,"p":"L6-2","x":550,"y":79.0},{"g":"(f)","r":2,"p":"L6-2","x":575,"y":78.8},{"g":"(f)","r":2,"p":"L6-2","x":600,"y":79.0}
]
},
"vconcat":[
{"data":{"name":"top"},
 "facet":{"row":{"field":"r","type":"ordinal","header":{"labels":false,"title":null}},
          "column":{"field":"g","type":"nominal","header":{"labelOrient":"bottom","title":null}}},
 "spacing":{"row":-7,"column":58},
 "resolve":{"axis":{"x":"independent","y":"independent"}},
 "spec":{"width":158,"height":58,
  "layer":[
   {"transform":[{"filter":"isValid(datum.lo)"}],
    "mark":{"type":"rule","color":"#8c8c8c","strokeWidth":0.8},
    "encoding":{"x":{"field":"x","type":"quantitative","scale":{"domain":[0,600],"nice":false},"axis":{"values":[0,200,400,600],"title":"Length of steel bar (mm)"}},
                "y":{"field":"lo","type":"quantitative","scale":{"domain":[75,82],"nice":false},"axis":{"values":[75,76,77,78,79,80,81,82],"labelOverlap":false,"tickCount":8,"title":"Cross section area (mm²)"}},
                "y2":{"field":"hi"}}},
   {"transform":[{"filter":"isValid(datum.y)"}],
    "mark":{"type":"line","color":"#d25c80","strokeWidth":1.5,"interpolate":"monotone"},
    "encoding":{"x":{"field":"x","type":"quantitative","axis":{"values":[0,200,400,600],"title":"Length of steel bar (mm)"}},"y":{"field":"y","type":"quantitative","axis":{"values":[75,76,77,78,79,80,81,82],"labelOverlap":false,"tickCount":8,"title":"Cross section area (mm²)"}}}},
   {"transform":[{"aggregate":[{"op":"count","as":"n"}],"groupby":["g","r","p"]}],
    "layer":[
     {"mark":{"type":"rule","color":"#222","strokeWidth":1},"encoding":{"x":{"datum":400},"y":{"datum":75},"y2":{"datum":82}}},
     {"mark":{"type":"rule","color":"#999","strokeWidth":0.8},"encoding":{"x":{"datum":600},"y":{"datum":75},"y2":{"datum":82}}},
     {"mark":{"type":"rule","color":"#000","strokeWidth":0.6},"encoding":{"x":{"datum":3},"x2":{"datum":397},"y":{"datum":75.35}}},
     {"mark":{"type":"rule","color":"#000","strokeWidth":0.6},"encoding":{"x":{"datum":403},"x2":{"datum":597},"y":{"datum":75.35}}},
     {"mark":{"type":"point","shape":"triangle-left","filled":true,"color":"#000","size":7,"opacity":1},"encoding":{"x":{"datum":6},"y":{"datum":75.35}}},
     {"mark":{"type":"point","shape":"triangle-right","filled":true,"color":"#000","size":7,"opacity":1},"encoding":{"x":{"datum":394},"y":{"datum":75.35}}},
     {"mark":{"type":"point","shape":"triangle-left","filled":true,"color":"#000","size":7,"opacity":1},"encoding":{"x":{"datum":406},"y":{"datum":75.35}}},
     {"mark":{"type":"point","shape":"triangle-right","filled":true,"color":"#000","size":7,"opacity":1},"encoding":{"x":{"datum":594},"y":{"datum":75.35}}},
     {"mark":{"type":"text","font":"Liberation Serif","fontSize":6,"fontWeight":"bold","color":"#000"},"encoding":{"x":{"datum":200},"y":{"datum":76.05},"text":{"value":"Tension-shear zone"}}},
     {"mark":{"type":"text","font":"Liberation Serif","fontSize":6,"fontWeight":"bold","color":"#000"},"encoding":{"x":{"datum":515},"y":{"datum":76.05},"text":{"value":"Pure bending zone"}}},
     {"mark":{"type":"text","font":"Liberation Serif","fontSize":9,"fontWeight":"bold","color":"#000"},"encoding":{"x":{"datum":505},"y":{"datum":81.1},"text":{"field":"p"}}}
    ]}
  ]}
},
{"data":{"name":"bot"},
 "facet":{"row":{"field":"r","type":"ordinal","header":{"labels":false,"title":null}},
          "column":{"field":"g","type":"nominal","header":{"labelOrient":"bottom","title":null}}},
 "spacing":{"row":-9,"column":58},
 "resolve":{"axis":{"x":"independent","y":"independent"}},
 "spec":{"width":158,"height":56,
  "layer":[
   {"transform":[{"filter":"isValid(datum.lo)"}],
    "mark":{"type":"rule","color":"#8c8c8c","strokeWidth":0.8},
    "encoding":{"x":{"field":"x","type":"quantitative","scale":{"domain":[0,600],"nice":false},"axis":{"values":[0,200,400,600],"title":"Length of steel bar (mm)"}},
                "y":{"field":"lo","type":"quantitative","scale":{"domain":[75,82],"nice":false},"axis":{"values":[75,76,77,78,79,80,81,82],"labelOverlap":false,"tickCount":8,"title":"Cross section area (mm²)"}},
                "y2":{"field":"hi"}}},
   {"transform":[{"filter":"isValid(datum.y)"}],
    "mark":{"type":"line","color":"#d25c80","strokeWidth":1.5,"interpolate":"monotone"},
    "encoding":{"x":{"field":"x","type":"quantitative","axis":{"values":[0,200,400,600],"title":"Length of steel bar (mm)"}},"y":{"field":"y","type":"quantitative","axis":{"values":[75,76,77,78,79,80,81,82],"labelOverlap":false,"tickCount":8,"title":"Cross section area (mm²)"}}}},
   {"transform":[{"aggregate":[{"op":"count","as":"n"}],"groupby":["g","r","p"]}],
    "layer":[
     {"mark":{"type":"rule","color":"#222","strokeWidth":1},"encoding":{"x":{"datum":400},"y":{"datum":75},"y2":{"datum":82}}},
     {"mark":{"type":"rule","color":"#999","strokeWidth":0.8},"encoding":{"x":{"datum":600},"y":{"datum":75},"y2":{"datum":82}}},
     {"mark":{"type":"rule","color":"#000","strokeWidth":0.6},"encoding":{"x":{"datum":3},"x2":{"datum":397},"y":{"datum":75.35}}},
     {"mark":{"type":"rule","color":"#000","strokeWidth":0.6},"encoding":{"x":{"datum":403},"x2":{"datum":597},"y":{"datum":75.35}}},
     {"mark":{"type":"point","shape":"triangle-left","filled":true,"color":"#000","size":7,"opacity":1},"encoding":{"x":{"datum":6},"y":{"datum":75.35}}},
     {"mark":{"type":"point","shape":"triangle-right","filled":true,"color":"#000","size":7,"opacity":1},"encoding":{"x":{"datum":394},"y":{"datum":75.35}}},
     {"mark":{"type":"point","shape":"triangle-left","filled":true,"color":"#000","size":7,"opacity":1},"encoding":{"x":{"datum":406},"y":{"datum":75.35}}},
     {"mark":{"type":"point","shape":"triangle-right","filled":true,"color":"#000","size":7,"opacity":1},"encoding":{"x":{"datum":594},"y":{"datum":75.35}}},
     {"mark":{"type":"text","font":"Liberation Serif","fontSize":6,"fontWeight":"bold","color":"#000"},"encoding":{"x":{"datum":200},"y":{"datum":76.05},"text":{"value":"Tension-shear zone"}}},
     {"mark":{"type":"text","font":"Liberation Serif","fontSize":6,"fontWeight":"bold","color":"#000"},"encoding":{"x":{"datum":515},"y":{"datum":76.05},"text":{"value":"Pure bending zone"}}},
     {"mark":{"type":"text","font":"Liberation Serif","fontSize":9,"fontWeight":"bold","color":"#000"},"encoding":{"x":{"datum":505},"y":{"datum":81.1},"text":{"field":"p"}}}
    ]}
  ]}
}
],
"spacing":-5,
"config":{
 "view":{"stroke":null},
 "axis":{"grid":false,"labelOverlap":false,"labelFont":"Liberation Serif","labelFontSize":6.5,"labelColor":"#333","titleFont":"Liberation Serif","titleFontSize":7,"titleFontWeight":"normal","titleColor":"#222","domainColor":"#000","domainWidth":0.8,"tickColor":"#000","tickSize":2,"labelPadding":1,"titlePadding":1},
 "axisY":{"tickCount":8,"labelOverlap":false},
 "header":{"labelFont":"Liberation Serif","labelFontSize":11,"labelFontWeight":"bold","labelColor":"#000","labelPadding":8}
}
}
